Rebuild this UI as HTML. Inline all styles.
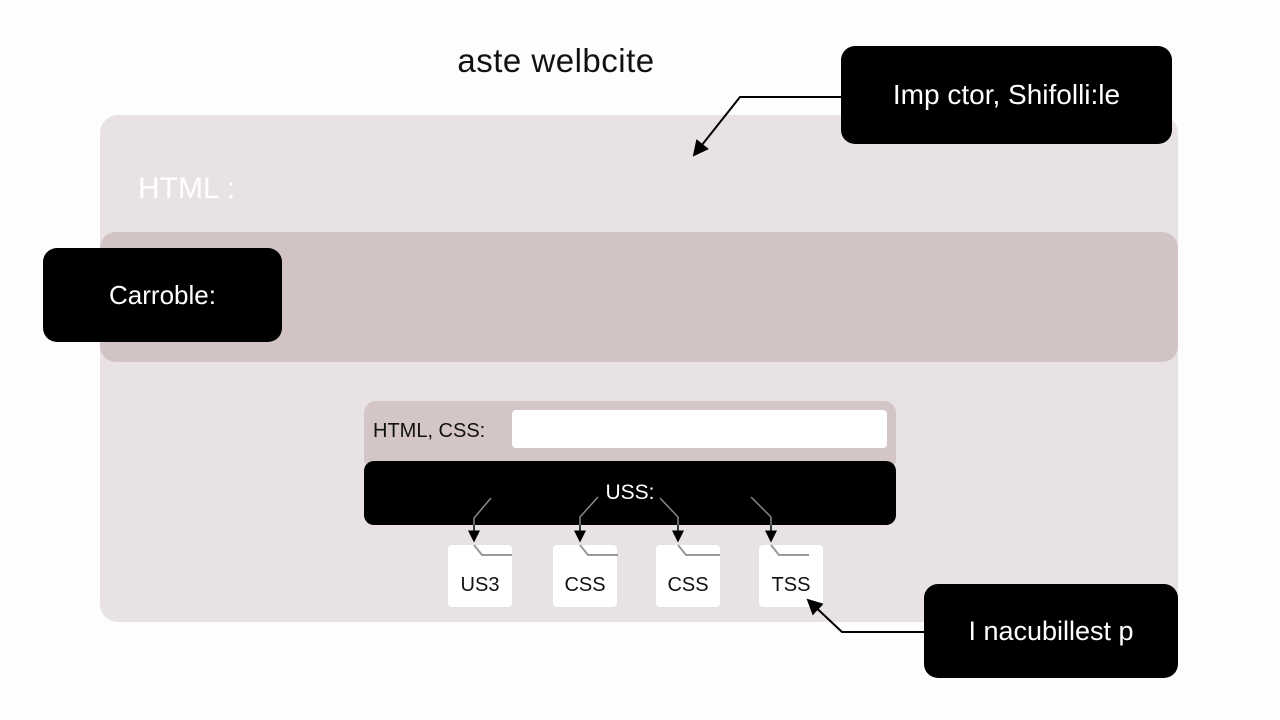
<!DOCTYPE html>
<html><head><style>
body{margin:0;width:1280px;height:720px;background:#fdfdfd;position:relative;overflow:hidden;font-family:"Liberation Sans",sans-serif}
div{position:absolute;box-sizing:border-box}
.blk{background:#000;color:#fff;border-radius:14px;display:flex;align-items:center;justify-content:center}
.file{background:#fff;border-radius:4px;width:64px;height:62px;font-size:20px;display:flex;align-items:flex-end;justify-content:center;padding-bottom:10px;color:#111}
</style></head><body>
<div style="left:450px;top:42px;width:212px;text-align:center;font-size:33px;color:#111;letter-spacing:0.5px">aste welbcite</div>
<div style="left:100px;top:115px;width:1078px;height:507px;background:#e8e2e4;border-radius:18px"></div>
<div style="left:138px;top:172px;font-size:30px;color:#fff">HTML :</div>
<div style="left:100px;top:232px;width:1078px;height:130px;background:#d2c4c5;border-radius:16px"></div>
<div class="blk" style="left:43px;top:248px;width:239px;height:94px;font-size:26px">Carroble:</div>
<div class="blk" style="left:841px;top:46px;width:331px;height:98px;font-size:28px">Imp ctor, Shifolli:le</div>
<div style="left:364px;top:401px;width:532px;height:70px;background:#d4c6c7;border-radius:12px"></div>
<div style="left:373px;top:420px;font-size:20px;color:#111">HTML, CSS:</div>
<div style="left:512px;top:410px;width:375px;height:38px;background:#fff;border-radius:4px"></div>
<div class="blk" style="left:364px;top:461px;width:532px;height:64px;font-size:21px;border-radius:10px;align-items:flex-start;padding-top:20px">USS:</div>
<div class="file" style="left:448px;top:545px">US3</div>
<div class="file" style="left:553px;top:545px">CSS</div>
<div class="file" style="left:656px;top:545px">CSS</div>
<div class="file" style="left:759px;top:545px">TSS</div>
<div class="blk" style="left:924px;top:584px;width:254px;height:94px;font-size:27px">I nacubillest p</div>
<svg width="1280" height="720" style="position:absolute;left:0;top:0">
<defs><marker id="a" markerWidth="8" markerHeight="8" refX="7" refY="4" orient="auto"><path d="M0,0L8,4L0,8z" fill="#000"/></marker></defs>
<g stroke="#000" stroke-width="2" fill="none">
<path d="M841,97H740L694,155" marker-end="url(#a)"/>
<path d="M924,632H842L808,600" marker-end="url(#a)"/>
</g>
<g stroke="#888" stroke-width="1.5" fill="none">
<path d="M491,498L474,518V525"/><path d="M598,497L580,517V525"/><path d="M660,498L678,517V525"/><path d="M751,497L771,517V525"/>
</g>
<g stroke="#000" stroke-width="1.5" fill="none">
<path d="M474,525V541" marker-end="url(#a)"/><path d="M580,525V541" marker-end="url(#a)"/><path d="M678,525V541" marker-end="url(#a)"/><path d="M771,525V541" marker-end="url(#a)"/>
</g>
<g stroke="#999" stroke-width="2" fill="none">
<path d="M474,545l8,10h30"/><path d="M580,545l8,10h30"/><path d="M678,545l8,10h34"/><path d="M771,545l8,10h30"/>
</g>
</svg>
</body></html>
